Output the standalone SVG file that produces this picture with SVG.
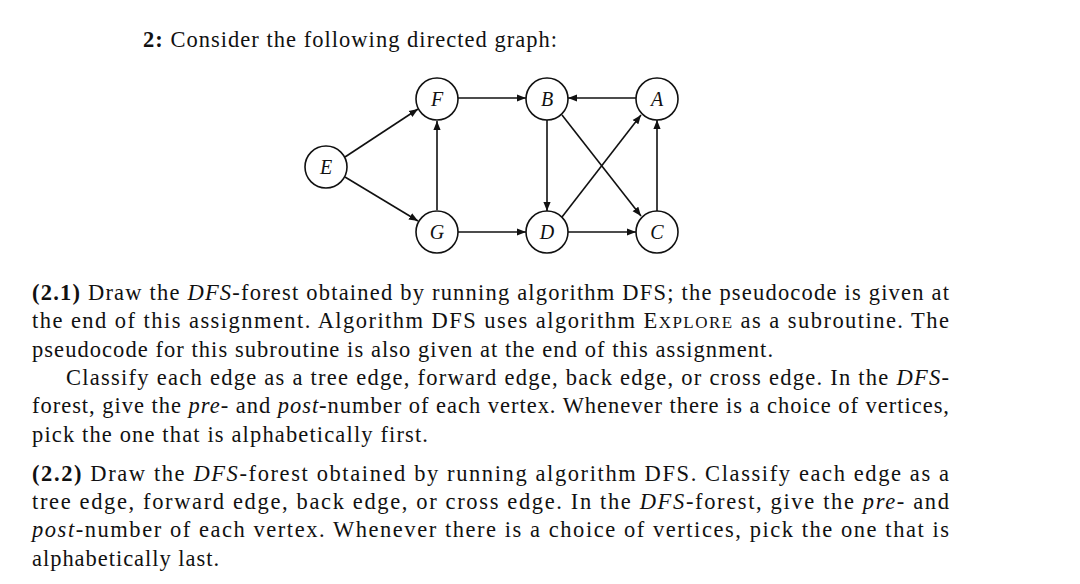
<svg xmlns="http://www.w3.org/2000/svg" width="1080" height="584" viewBox="0 0 1080 584">
<style>
text{font-family:"Liberation Serif","DejaVu Serif",serif;font-size:22.5px;fill:#111}
.b{font-weight:bold}
.i{font-style:italic}
.sc{font-size:17px}
.n circle{fill:#fff;stroke:#111;stroke-width:1.6}
.n text{font-style:italic;font-size:20px;text-anchor:middle}
#edges line{stroke:#111;stroke-width:1.6;marker-end:url(#ah)}
</style>
<defs><marker id="ah" viewBox="0 0 10 10" refX="10" refY="5" markerWidth="9" markerHeight="9" markerUnits="userSpaceOnUse" orient="auto"><path d="M0,1L10,5L0,9z" fill="#111"/></marker></defs>
<rect width="1080" height="584" fill="#fff"/>
<text x="143" y="47" textLength="414"><tspan class="b">2:</tspan> Consider the following directed graph:</text>
<g id="edges">
<line x1="345" y1="157" x2="418" y2="109"/>
<line x1="345" y1="177" x2="418" y2="221"/>
<line x1="437" y1="210" x2="437" y2="121"/>
<line x1="458" y1="98" x2="526" y2="98"/>
<line x1="636" y1="98" x2="568" y2="98"/>
<line x1="547" y1="120" x2="547" y2="211"/>
<line x1="562" y1="115" x2="641" y2="216"/>
<line x1="562" y1="217" x2="641" y2="115"/>
<line x1="458" y1="232" x2="526" y2="232"/>
<line x1="568" y1="232" x2="636" y2="232"/>
<line x1="657" y1="211" x2="657" y2="120"/>
</g>
<g id="nF" class="n"><circle cx="437" cy="99" r="21"/><text x="437" y="106">F</text></g>
<g id="nB" class="n"><circle cx="547" cy="99" r="21"/><text x="547" y="106">B</text></g>
<g id="nA" class="n"><circle cx="657" cy="99" r="21"/><text x="657" y="106">A</text></g>
<g id="nE" class="n"><circle cx="326" cy="167" r="21"/><text x="326" y="174">E</text></g>
<g id="nG" class="n"><circle cx="437" cy="232" r="21"/><text x="437" y="239">G</text></g>
<g id="nD" class="n"><circle cx="547" cy="232" r="21"/><text x="547" y="239">D</text></g>
<g id="nC" class="n"><circle cx="657" cy="232" r="21"/><text x="657" y="239">C</text></g>
<text x="32" y="300" textLength="917"><tspan class="b">(2.1)</tspan> Draw the <tspan class="i">DFS</tspan>-forest obtained by running algorithm DFS; the pseudocode is given at</text>
<text x="32" y="328" textLength="917">the end of this assignment. Algorithm DFS uses algorithm E<tspan class="sc">XPLORE</tspan> as a subroutine. The</text>
<text x="32" y="357" textLength="741">pseudocode for this subroutine is also given at the end of this assignment.</text>
<text x="66" y="385" textLength="883">Classify each edge as a tree edge, forward edge, back edge, or cross edge. In the <tspan class="i">DFS</tspan>-</text>
<text x="32" y="413" textLength="917">forest, give the <tspan class="i">pre</tspan>- and <tspan class="i">post</tspan>-number of each vertex. Whenever there is a choice of vertices,</text>
<text x="32" y="442" textLength="396">pick the one that is alphabetically first.</text>
<text x="32" y="481" textLength="917"><tspan class="b">(2.2)</tspan> Draw the <tspan class="i">DFS</tspan>-forest obtained by running algorithm DFS. Classify each edge as a</text>
<text x="32" y="509" textLength="917">tree edge, forward edge, back edge, or cross edge. In the <tspan class="i">DFS</tspan>-forest, give the <tspan class="i">pre</tspan>- and</text>
<text x="32" y="537" textLength="917"><tspan class="i">post</tspan>-number of each vertex. Whenever there is a choice of vertices, pick the one that is</text>
<text x="32" y="566" textLength="187">alphabetically last.</text>
</svg>
